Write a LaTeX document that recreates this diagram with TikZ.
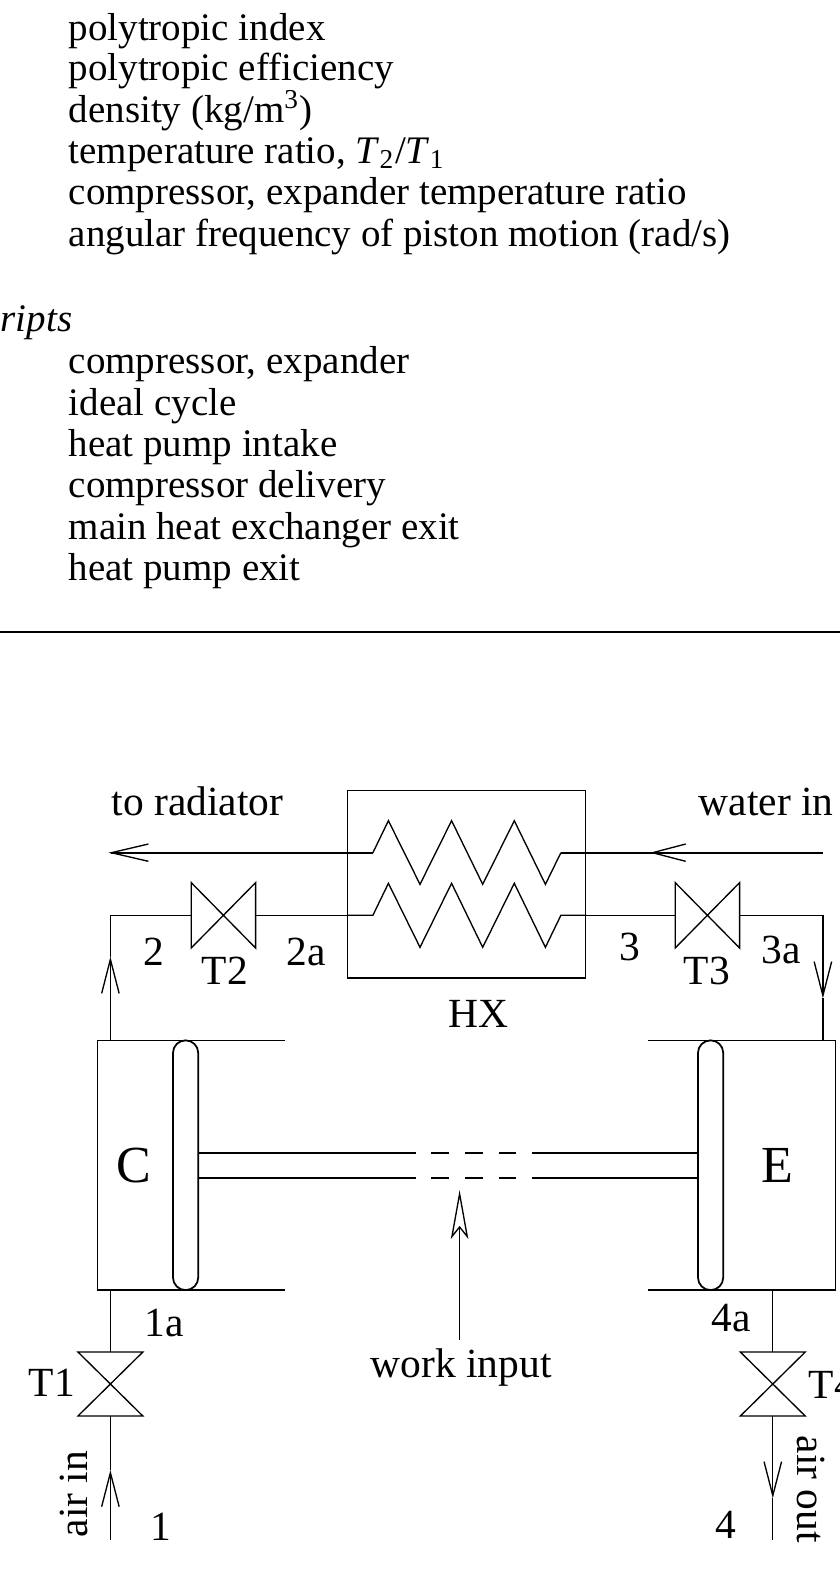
\documentclass[tikz,border=0pt]{standalone}
\usepackage{fontspec}
\setmainfont{Liberation Serif}
\usetikzlibrary{arrows.meta}
\tikzset{
    listtxt/.style={inner sep=0pt, anchor=base west, font=\fontsize{11.1}{13}\selectfont},
    tag/.style={inner sep=0pt, anchor=base west, font=\fontsize{11.8}{14}\selectfont},
    bigtag/.style={inner sep=0pt, anchor=base west, font=\fontsize{14.8}{17}\selectfont},
    pipe/.style={line width=0.38pt},
    wall/.style={line width=0.45pt},
    flow/.style={line width=0.6pt},
    barb/.style={-{Straight Barb[length=3.4mm,width=1.75mm,line width=0.38pt]}},
    hvalve/.style={inner sep=0pt, minimum width=6.3mm, minimum height=6.4mm},
    vvalve/.style={inner sep=0pt, minimum width=6.35mm, minimum height=6.26mm},
    piston/.style={draw, line width=0.5pt, inner sep=0pt, minimum width=2.52mm, minimum height=24.97mm, rounded corners=1.25mm},
    rodline/.style={line width=0.6pt, dash pattern=on 21.67mm off 1.56mm on 1.79mm off 1.61mm on 1.75mm off 1.6mm on 1.75mm off 1.6mm on 16.62mm}
}
\begin{document}
\begin{tikzpicture}[x=0.1mm, y=-0.1mm]
    \useasboundingbox (0,0) rectangle (840,1585);

    % nomenclature
    \node[listtxt] (n1) at (68,40) {polytropic index};
    \node[listtxt] (n2) at (68,80.3) {polytropic efficiency};
    \node[listtxt] (n3) at (68,122.3) {density (kg/m\textsuperscript{3})};
    \node[listtxt] (n4) at (68,163) {temperature ratio, \textit{T}\textsubscript{2}/\textit{T}\textsubscript{1}};
    \node[listtxt] (n5) at (68,204.3) {compressor, expander temperature ratio};
    \node[listtxt] (n6) at (68,246) {angular frequency of piston motion (rad/s)};
    \node[listtxt] (sub) at (0,331) {\textit{ripts}};
    \node[listtxt] (s1) at (68,373.3) {compressor, expander};
    \node[listtxt] (s2) at (68,415) {ideal cycle};
    \node[listtxt] (s3) at (68,456.7) {heat pump intake};
    \node[listtxt] (s4) at (68,497.7) {compressor delivery};
    \node[listtxt] (s5) at (68,539) {main heat exchanger exit};
    \node[listtxt] (s6) at (68,580.7) {heat pump exit};
    \coordinate (ruleL) at (0,632);
    \coordinate (ruleR) at (840,632);
    \draw[line width=0.6pt] (ruleL) -- (ruleR);

    % heat exchanger
    \node[draw, wall, inner sep=0pt, minimum width=23.78mm, minimum height=18.74mm] (hx) at (466.6,884) {};
    \coordinate (waterin) at (822.9,852.7);
    \coordinate (radiator) at (111.4,852.7);
    \coordinate (headW) at (652.5,852.7);
    \coordinate (zzR) at (560.9,852.7);
    \coordinate (zzL) at (372.9,852.7);
    \draw[flow] (waterin) -- (zzR);
    \draw[flow] (zzL) -- (radiator);
    \draw[pipe] (zzR) -- (545.4,884.3) -- (514.3,820.7) -- (482.7,884.3) -- (451.6,820.7)
        -- (420,884.3) -- (388.4,820.7) -- (zzL);
    \draw[pipe] (148.4,844) -- (radiator) -- (148.4,861.3);
    \draw[pipe] (685.7,844) -- (headW) -- (685.7,861.3);
    \draw[pipe] (hx.west |- 0,915.3) -- (372.9,915.3) -- (388.4,883.3) -- (420,947.3) -- (451.6,883.3) -- (482.7,947.3)
        -- (514.3,883.3) -- (545.4,947.3) -- (560.9,915.3) -- (hx.east |- 0,915.3);

    % valves
    \node[hvalve] (T2v) at (223.4,915.3) {};
    \node[hvalve] (T3v) at (707.4,915.3) {};
    \node[vvalve] (T1v) at (110.4,1384) {};
    \node[vvalve] (T4v) at (772.8,1384) {};
    \draw[pipe] (T2v.north west) -- (T2v.south east) -- (T2v.north east) -- (T2v.south west) -- cycle;
    \draw[pipe] (T3v.north west) -- (T3v.south east) -- (T3v.north east) -- (T3v.south west) -- cycle;
    \draw[pipe] (T1v.north west) -- (T1v.north east) -- (T1v.south west) -- (T1v.south east) -- cycle;
    \draw[pipe] (T4v.north west) -- (T4v.north east) -- (T4v.south west) -- (T4v.south east) -- cycle;

    % cylinders
    \coordinate (Ctl) at (97.6,1040.3);
    \coordinate (Cbl) at (97.6,1290);
    \coordinate (Etr) at (835.7,1040.3);
    \coordinate (Ebr) at (835.7,1290);
    \draw[wall] (285.4,1040.3) -- (Ctl) -- (Cbl) -- (285.4,1290);
    \draw[wall] (648.2,1040.3) -- (Etr) -- (Ebr) -- (648.2,1290);
    \node[piston] (pC) at (185.6,1165.2) {};
    \node[piston] (pE) at (710.6,1165.2) {};
    \draw[rodline] (pC.east |- 0,1153) -- (pE.west |- 0,1153);
    \draw[rodline] (pC.east |- 0,1177.7) -- (pE.west |- 0,1177.7);

    % pipes
    \coordinate (in1) at (110.4,1540);
    \coordinate (out4) at (772.8,1540);
    \coordinate (headA) at (110.4,956.7);
    \coordinate (headB) at (822.9,998.3);
    \coordinate (headC) at (110.4,1470);
    \coordinate (headD) at (772.8,1498.3);
    \draw[pipe, barb] (Ctl -| in1) -- (headA);
    \draw[pipe] (headA) |- (T2v.west);
    \draw[pipe] (T2v.east) -- (hx.west |- T2v.east);
    \draw[pipe] (hx.east |- T3v.west) -- (T3v.west);
    \draw[pipe, barb] (T3v.east) -| (headB);
    \draw[pipe] (headB) -- (Etr -| headB);
    \draw[pipe] (Cbl -| in1) -- (T1v.north);
    \draw[pipe] (T1v.south) -- (headC);
    \draw[pipe, barb] (in1) -- (headC);
    \draw[pipe] (Ebr -| out4) -- (T4v.north);
    \draw[pipe, barb] (T4v.south) -- (headD);
    \draw[pipe] (headD) -- (out4);

    % work arrow
    \coordinate (workfoot) at (459.6,1340);
    \coordinate (worktip) at (459.6,1190);
    \draw[line width=0.3pt, -{Stealth[open, length=4.9mm, width=1.75mm, inset=1.1mm, line width=0.38pt]}] (workfoot) -- (worktip);

    % labels
    \node[tag] (lradiator) at (111,815) {to radiator};
    \node[tag] (lwater) at (698,815) {water in};
    \node[tag] (l2) at (143,965) {2};
    \node[tag] (lT2) at (201,984) {T2};
    \node[tag] (l2a) at (286,965) {2a};
    \node[tag] (l3) at (619,960) {3};
    \node[tag] (lT3) at (683,984) {T3};
    \node[tag] (l3a) at (761,963) {3a};
    \node[tag] (lHX) at (448,1027) {HX};
    \node[bigtag] (lC) at (116,1182) {C};
    \node[bigtag] (lE) at (761,1182) {E};
    \node[tag] (l1a) at (144,1336) {1a};
    \node[tag] (lT1) at (28,1396.7) {T1};
    \node[tag] (lwork) at (370,1377) {work input};
    \node[tag] (l4a) at (711,1331) {4a};
    \node[tag] (lT4) at (808,1398) {T4};
    \node[tag, rotate=90] (lairin) at (88,1538) {air in};
    \node[tag, rotate=-90] (lairout) at (797.5,1435) {air out};
    \node[tag] (l1) at (150,1540.7) {1};
    \node[tag] (l4) at (715,1538) {4};
\end{tikzpicture}
\end{document}
